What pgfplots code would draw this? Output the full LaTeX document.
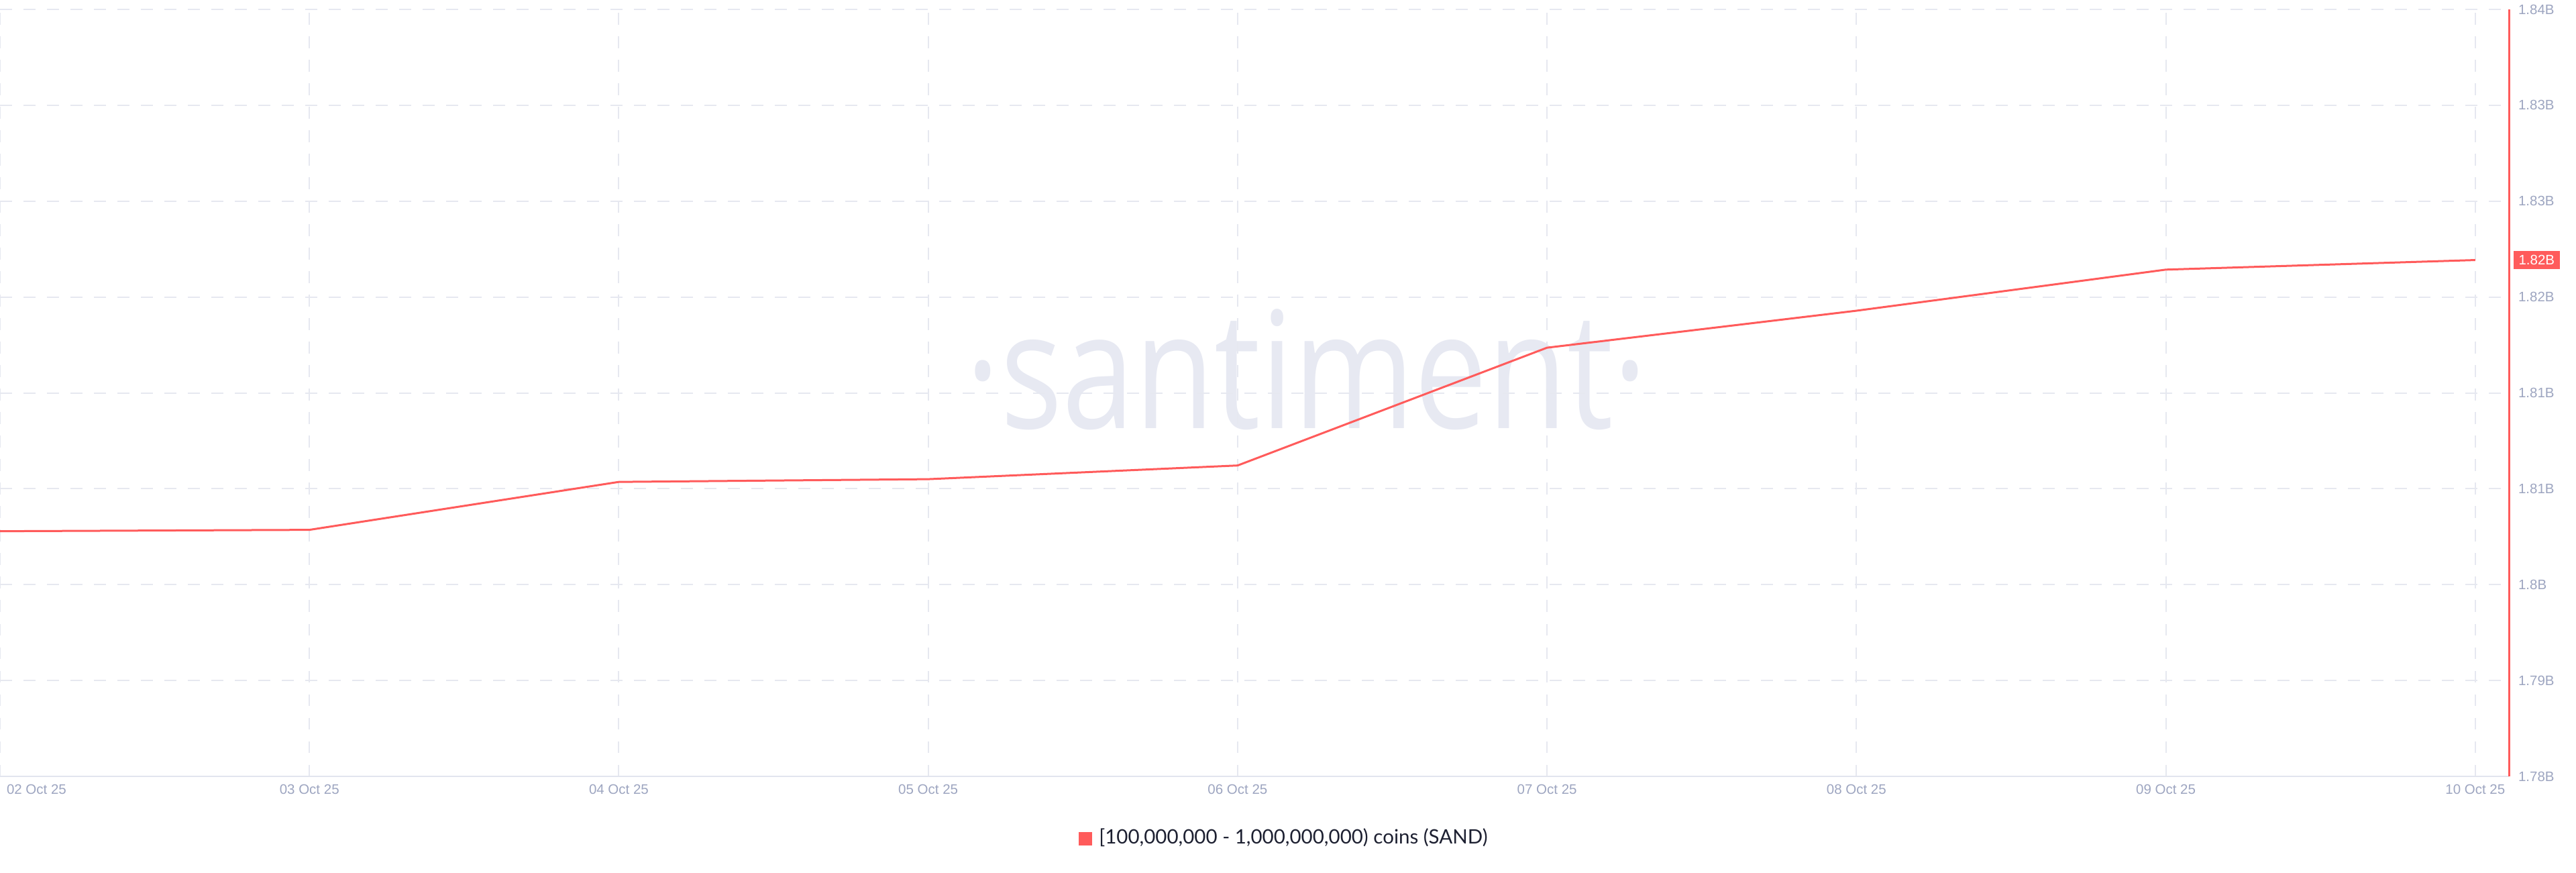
\documentclass[border=0pt]{standalone}
\usepackage{pgfplots}
\pgfplotsset{compat=1.18}
\usepackage{fontspec}
\setmainfont{Liberation Sans}
\newfontfamily\tickfont{Liberation Sans}
\newfontfamily\legfont{Lato}
\newfontfamily\wmfont{Open Sans}
\definecolor{linered}{HTML}{FF5B5B}
\definecolor{gridc}{HTML}{E6E8F0}
\definecolor{tickc}{HTML}{9DA5C0}
\definecolor{axc}{HTML}{E2E5EE}
\definecolor{wmc}{HTML}{E7E9F2}
\definecolor{legc}{HTML}{1D2031}
\pgfplotstableread{
x y
0 1.8024
1 1.8025
2 1.8060
3 1.8062
4 1.8072
5 1.8158
6 1.8185
7 1.8215
8 1.8222
}\sanddata
\begin{document}
\begin{tikzpicture}
\useasboundingbox (0,-28.6pt) rectangle (768pt,231.4pt);
\node[text=wmc, font=\wmfont\fontsize{48.5}{50}\selectfont, inner sep=0pt] at (389.6pt,121.2pt) {\scalebox{0.8}[1]{·santiment·}};
\begin{axis}[
  at={(0,0)}, anchor=south west, scale only axis,
  width=748pt, height=228.6pt,
  xmin=0, xmax=8.109, ymin=1.7845, ymax=1.8405,
  axis line style={draw=none},
  xtick={0,1,2,3,4,5,6,7,8},
  xticklabels={\makebox[0pt][l]{\hspace{2pt}02 Oct 25},03 Oct 25,04 Oct 25,05 Oct 25,06 Oct 25,07 Oct 25,08 Oct 25,09 Oct 25,10 Oct 25},
  ytick={1.7845,1.7915,1.7985,1.8055,1.8125,1.8195,1.8265,1.8335,1.8405},
  yticklabels={1.78B,1.79B,1.8B,1.81B,1.81B,1.82B,1.83B,1.83B,1.84B},
  yticklabel pos=right,
  major tick length=0pt,
  grid=major,
  major grid style={gridc, line width=0.4pt, dash pattern=on 3.5pt off 3.5pt},
  tick label style={text=tickc, font=\tickfont\fontsize{4.1}{4.8}\selectfont},
  xticklabel style={anchor=north, inner sep=0pt, yshift=-2.3pt},
  yticklabel style={anchor=west, inner sep=0pt, xshift=2.6pt},
  clip=false,
  legend style={at={(0.5128,-0.0814)}, anchor=center, draw=none, fill=none,
    font=\legfont\fontsize{5.9}{7}\selectfont, text=legc, inner sep=0pt},
  legend image code/.code={\fill[linered] (0.4pt,-1.7pt) rectangle (3.8pt,1.7pt);},
]
\addplot[linered, line width=0.6pt] table[x=x, y=y] {\sanddata};
\addlegendentry{[100,000,000 - 1,000,000,000) coins (SAND)}
\draw[axc, line width=0.5pt] (rel axis cs:0,0) -- (rel axis cs:1,0);
\draw[linered, line width=0.6pt] (rel axis cs:1,0) -- (rel axis cs:1,1);
\node[fill=linered, text=white, font=\tickfont\fontsize{4.1}{4.8}\selectfont, anchor=west, inner xsep=1.5pt, inner ysep=1.2pt, text height=2.9pt, text depth=0pt, xshift=1.2pt] at (axis cs:8.109,1.8222) {1.82B};
\end{axis}
\end{tikzpicture}
\end{document}
